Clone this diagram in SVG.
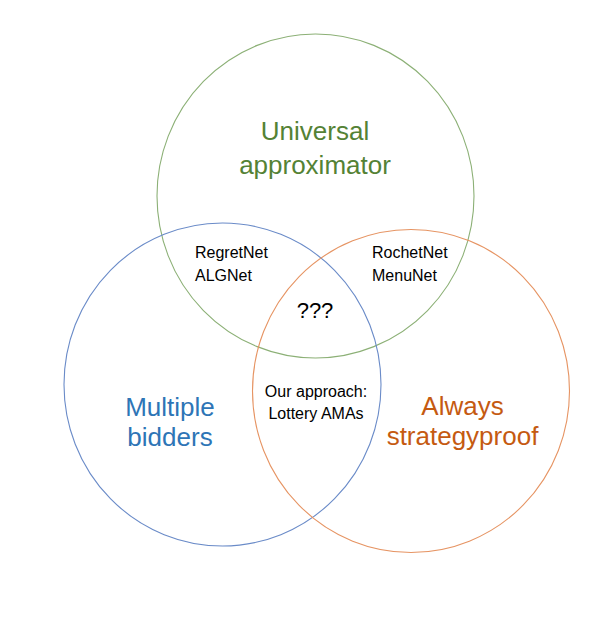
<svg xmlns="http://www.w3.org/2000/svg" width="616" height="620" viewBox="0 0 616 620">
  <style>
    .ring { fill: none; stroke-width: 1.1; }
    .big { font-family: "Liberation Sans", Arial, sans-serif; font-size: 26px; text-anchor: middle; }
    .small { font-family: "Liberation Sans", Arial, sans-serif; font-size: 16px; fill: #000; }
  </style>
  <rect width="616" height="620" fill="#fff"/>
  <g id="universal">
    <ellipse class="ring" cx="315.5" cy="196" rx="158.5" ry="162" stroke="#8CB076"/>
    <text class="big" fill="#548235" x="315" y="140">Universal</text>
    <text class="big" fill="#548235" x="315" y="174">approximator</text>
  </g>
  <g id="multiple">
    <ellipse class="ring" cx="222.5" cy="384.5" rx="158.5" ry="161.5" stroke="#6A8BC8"/>
    <text class="big" fill="#2E75B6" x="170" y="416">Multiple</text>
    <text class="big" fill="#2E75B6" x="170" y="446">bidders</text>
  </g>
  <g id="strategyproof">
    <ellipse class="ring" cx="411" cy="391" rx="158.5" ry="161.5" stroke="#E69463"/>
    <text class="big" fill="#C55A11" x="462.5" y="415">Always</text>
    <text class="big" fill="#C55A11" x="462.5" y="445">strategyproof</text>
  </g>
  <g id="regretnet">
    <text class="small" x="195" y="258">RegretNet</text>
    <text class="small" x="195" y="281">ALGNet</text>
  </g>
  <g id="rochetnet">
    <text class="small" x="372" y="258">RochetNet</text>
    <text class="small" x="372" y="281">MenuNet</text>
  </g>
  <g id="unknown">
    <text x="315" y="318" font-family="Liberation Sans, Arial, sans-serif" font-size="22" text-anchor="middle" fill="#000">???</text>
  </g>
  <g id="lottery">
    <text class="small" x="316" y="397" text-anchor="middle">Our approach:</text>
    <text class="small" x="316" y="419" text-anchor="middle">Lottery AMAs</text>
  </g>
  <g id="connectors"></g>
</svg>
